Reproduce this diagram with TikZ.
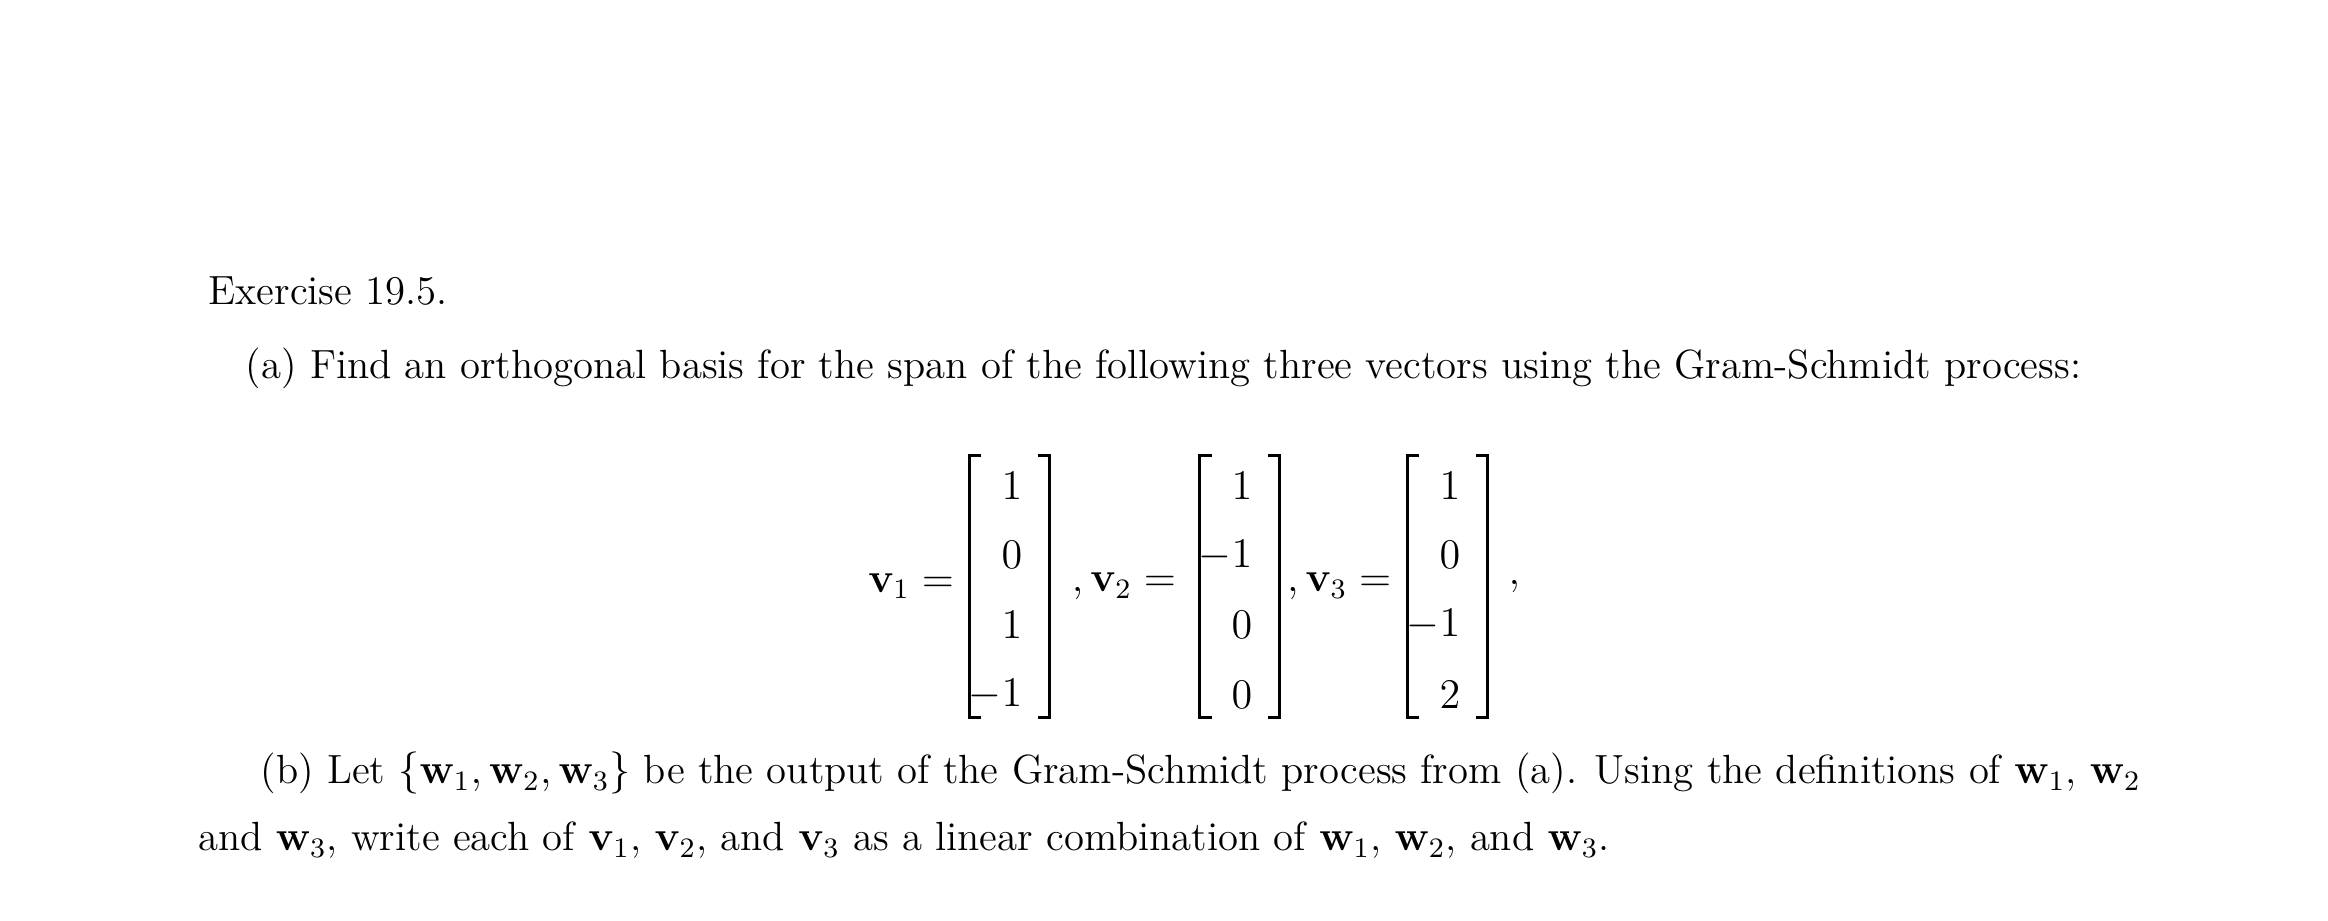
\documentclass[tikz,border=0pt]{standalone}
\usepackage{amsmath}
\begin{document}
\begin{tikzpicture}[x=0.014847cm,y=-0.014847cm,
  txt/.style={anchor=base west,inner sep=0,font=\fontsize{11.6}{14}\selectfont},
  ent/.style={inner sep=0,font=\fontsize{11.6}{14}\selectfont},
  brk/.style={line width=0.8pt}]
\useasboundingbox (0,0) rectangle (1568,620);
\node[txt] (t0) at (140,205) {Exercise 19.5.};
\node[txt] (t1) at (165,255) {(a) Find an orthogonal basis for the span of the following three vectors using the Gram-Schmidt process:};
\node[ent,anchor=east] (l1) at (643,395) {$\mathbf{v}_1=$};
\node[ent] (l2) at (757,395) {$,\mathbf{v}_2=$};
\node[ent] (l3) at (902,395) {$,\mathbf{v}_3=$};
\node[ent] (l4) at (1020,395) {$,$};
\foreach \cx/\a/\b/\c/\d/\nm in {680/1/0/1/-1/m1, 835/1/-1/0/0/m2, 975/1/0/-1/2/m3}{
  \node[ent,anchor=east] (\nm a) at (\cx+9,327) {$\a$};
  \node[ent,anchor=east] (\nm b) at (\cx+9,374) {$\b$};
  \node[ent,anchor=east] (\nm c) at (\cx+9,421) {$\c$};
  \node[ent,anchor=east] (\nm d) at (\cx+9,468) {$\d$};
  \draw[brk] (\cx-19,307) -- (\cx-27,307) -- (\cx-27,483) -- (\cx-19,483);
  \draw[brk] (\cx+19,307) -- (\cx+27,307) -- (\cx+27,483) -- (\cx+19,483);
}
\node[txt] (t2) at (175,528) {(b) Let $\{\mathbf{w}_1,\mathbf{w}_2,\mathbf{w}_3\}$ be the output of the Gram-Schmidt process from (a). Using the definitions of $\mathbf{w}_1$, $\mathbf{w}_2$};
\node[txt] (t3) at (133,573) {and $\mathbf{w}_3$, write each of $\mathbf{v}_1$, $\mathbf{v}_2$, and $\mathbf{v}_3$ as a linear combination of $\mathbf{w}_1$, $\mathbf{w}_2$, and $\mathbf{w}_3$.};
\end{tikzpicture}
\end{document}
